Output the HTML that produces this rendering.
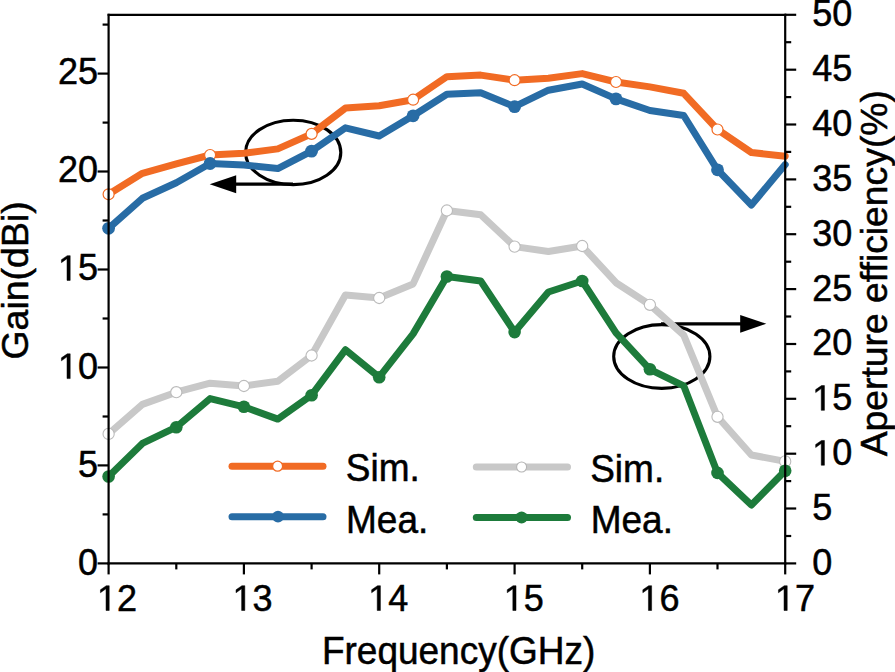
<!DOCTYPE html>
<html><head><meta charset="utf-8"><style>
html,body{margin:0;padding:0;background:#fff;width:895px;height:672px;overflow:hidden}
svg{display:block}
text{font-family:"Liberation Sans",sans-serif;font-size:36px;fill:#000;stroke:#000;stroke-width:0.5px}
</style></head><body>
<svg width="895" height="672" viewBox="0 0 895 672">
<ellipse cx="293.2" cy="152.4" rx="47.6" ry="32.2" fill="none" stroke="#000" stroke-width="3.1"/><line x1="230" y1="184.2" x2="293" y2="184.2" stroke="#000" stroke-width="3.2"/><polygon points="209.7,184.2 236.2,175.2 236.2,193.3" fill="#000"/><ellipse cx="661.8" cy="356.5" rx="48.1" ry="31.9" fill="none" stroke="#000" stroke-width="3.1"/><line x1="661" y1="323.8" x2="745" y2="323.8" stroke="#000" stroke-width="3.2"/><polygon points="766.3,323.8 740.2,315 740.2,332.7" fill="#000"/>
<polyline points="108.6,433.9 142.4,404.4 176.3,392.2 210.1,383.2 243.9,386.0 277.8,381.2 311.6,355.5 345.4,295.0 379.2,298.0 413.1,283.9 446.9,210.5 480.7,214.8 514.6,246.6 548.4,251.5 582.2,246.0 616.0,282.7 649.9,304.8 683.7,335.2 717.5,416.8 751.4,455.0 785.2,461.4" fill="none" stroke="#c8c8c8" stroke-width="7" stroke-linejoin="round" stroke-linecap="round"/><polyline points="108.6,476.5 142.4,443.4 176.3,427.2 210.1,398.6 243.9,406.8 277.8,419.1 311.6,395.2 345.4,349.8 379.2,377.2 413.1,333.9 446.9,276.5 480.7,281.0 514.6,332.1 548.4,292.0 582.2,281.0 616.0,332.9 649.9,369.3 683.7,385.8 717.5,472.9 751.4,505.0 785.2,470.7" fill="none" stroke="#1d7b3b" stroke-width="7" stroke-linejoin="round" stroke-linecap="round"/><polyline points="108.6,194.3 142.4,173.3 176.3,163.9 210.1,155.0 243.9,153.2 277.8,148.9 311.6,133.9 345.4,108.1 379.2,105.7 413.1,99.7 446.9,76.7 480.7,75.1 514.6,80.2 548.4,78.2 582.2,73.6 616.0,82.0 649.9,86.9 683.7,93.3 717.5,129.5 751.4,152.5 785.2,156.2" fill="none" stroke="#f16b24" stroke-width="7" stroke-linejoin="round" stroke-linecap="round"/><polyline points="108.6,228.3 142.4,198.3 176.3,182.7 210.1,163.5 243.9,165.0 277.8,168.6 311.6,151.1 345.4,127.8 379.2,136.0 413.1,115.8 446.9,94.2 480.7,92.8 514.6,106.7 548.4,90.2 582.2,84.0 616.0,98.9 649.9,110.5 683.7,115.5 717.5,169.8 751.4,205.0 785.2,164.6" fill="none" stroke="#286ca5" stroke-width="7" stroke-linejoin="round" stroke-linecap="round"/><circle cx="108.6" cy="433.9" r="5.6" fill="#fff" stroke="#bbb" stroke-width="1.1"/><circle cx="176.3" cy="392.2" r="5.6" fill="#fff" stroke="#bbb" stroke-width="1.1"/><circle cx="243.9" cy="386.0" r="5.6" fill="#fff" stroke="#bbb" stroke-width="1.1"/><circle cx="311.6" cy="355.5" r="5.6" fill="#fff" stroke="#bbb" stroke-width="1.1"/><circle cx="379.2" cy="298.0" r="5.6" fill="#fff" stroke="#bbb" stroke-width="1.1"/><circle cx="446.9" cy="210.5" r="5.6" fill="#fff" stroke="#bbb" stroke-width="1.1"/><circle cx="514.6" cy="246.6" r="5.6" fill="#fff" stroke="#bbb" stroke-width="1.1"/><circle cx="582.2" cy="246.0" r="5.6" fill="#fff" stroke="#bbb" stroke-width="1.1"/><circle cx="649.9" cy="304.8" r="5.6" fill="#fff" stroke="#bbb" stroke-width="1.1"/><circle cx="717.5" cy="416.8" r="5.6" fill="#fff" stroke="#bbb" stroke-width="1.1"/><circle cx="785.2" cy="461.4" r="5.6" fill="#fff" stroke="#bbb" stroke-width="1.1"/><circle cx="108.6" cy="476.5" r="6.3" fill="#1d7b3b"/><circle cx="176.3" cy="427.2" r="6.3" fill="#1d7b3b"/><circle cx="243.9" cy="406.8" r="6.3" fill="#1d7b3b"/><circle cx="311.6" cy="395.2" r="6.3" fill="#1d7b3b"/><circle cx="379.2" cy="377.2" r="6.3" fill="#1d7b3b"/><circle cx="446.9" cy="276.5" r="6.3" fill="#1d7b3b"/><circle cx="514.6" cy="332.1" r="6.3" fill="#1d7b3b"/><circle cx="582.2" cy="281.0" r="6.3" fill="#1d7b3b"/><circle cx="649.9" cy="369.3" r="6.3" fill="#1d7b3b"/><circle cx="717.5" cy="472.9" r="6.3" fill="#1d7b3b"/><circle cx="785.2" cy="470.7" r="6.3" fill="#1d7b3b"/><circle cx="108.6" cy="194.3" r="5.5" fill="#fff" stroke="#f16b24" stroke-width="1.2"/><circle cx="210.1" cy="155.0" r="5.5" fill="#fff" stroke="#f16b24" stroke-width="1.2"/><circle cx="311.6" cy="133.9" r="5.5" fill="#fff" stroke="#f16b24" stroke-width="1.2"/><circle cx="413.1" cy="99.7" r="5.5" fill="#fff" stroke="#f16b24" stroke-width="1.2"/><circle cx="514.6" cy="80.2" r="5.5" fill="#fff" stroke="#f16b24" stroke-width="1.2"/><circle cx="616.0" cy="82.0" r="5.5" fill="#fff" stroke="#f16b24" stroke-width="1.2"/><circle cx="717.5" cy="129.5" r="5.5" fill="#fff" stroke="#f16b24" stroke-width="1.2"/><circle cx="108.6" cy="228.3" r="6.4" fill="#286ca5"/><circle cx="210.1" cy="163.5" r="6.4" fill="#286ca5"/><circle cx="311.6" cy="151.1" r="6.4" fill="#286ca5"/><circle cx="413.1" cy="115.8" r="6.4" fill="#286ca5"/><circle cx="514.6" cy="106.7" r="6.4" fill="#286ca5"/><circle cx="616.0" cy="98.9" r="6.4" fill="#286ca5"/><circle cx="717.5" cy="169.8" r="6.4" fill="#286ca5"/>
<line x1="97.6" y1="563.4" x2="108.6" y2="563.4" stroke="#000" stroke-width="2.2"/><line x1="97.6" y1="465.4" x2="108.6" y2="465.4" stroke="#000" stroke-width="2.2"/><line x1="97.6" y1="367.5" x2="108.6" y2="367.5" stroke="#000" stroke-width="2.2"/><line x1="97.6" y1="269.5" x2="108.6" y2="269.5" stroke="#000" stroke-width="2.2"/><line x1="97.6" y1="171.5" x2="108.6" y2="171.5" stroke="#000" stroke-width="2.2"/><line x1="97.6" y1="73.6" x2="108.6" y2="73.6" stroke="#000" stroke-width="2.2"/><line x1="102.6" y1="514.4" x2="108.6" y2="514.4" stroke="#000" stroke-width="2.2"/><line x1="102.6" y1="416.5" x2="108.6" y2="416.5" stroke="#000" stroke-width="2.2"/><line x1="102.6" y1="318.5" x2="108.6" y2="318.5" stroke="#000" stroke-width="2.2"/><line x1="102.6" y1="220.5" x2="108.6" y2="220.5" stroke="#000" stroke-width="2.2"/><line x1="102.6" y1="122.6" x2="108.6" y2="122.6" stroke="#000" stroke-width="2.2"/><line x1="102.6" y1="24.6" x2="108.6" y2="24.6" stroke="#000" stroke-width="2.2"/><line x1="785.2" y1="563.4" x2="796.2" y2="563.4" stroke="#000" stroke-width="2.2"/><line x1="785.2" y1="508.5" x2="796.2" y2="508.5" stroke="#000" stroke-width="2.2"/><line x1="785.2" y1="453.7" x2="796.2" y2="453.7" stroke="#000" stroke-width="2.2"/><line x1="785.2" y1="398.8" x2="796.2" y2="398.8" stroke="#000" stroke-width="2.2"/><line x1="785.2" y1="344.0" x2="796.2" y2="344.0" stroke="#000" stroke-width="2.2"/><line x1="785.2" y1="289.1" x2="796.2" y2="289.1" stroke="#000" stroke-width="2.2"/><line x1="785.2" y1="234.2" x2="796.2" y2="234.2" stroke="#000" stroke-width="2.2"/><line x1="785.2" y1="179.4" x2="796.2" y2="179.4" stroke="#000" stroke-width="2.2"/><line x1="785.2" y1="124.5" x2="796.2" y2="124.5" stroke="#000" stroke-width="2.2"/><line x1="785.2" y1="69.7" x2="796.2" y2="69.7" stroke="#000" stroke-width="2.2"/><line x1="785.2" y1="14.8" x2="796.2" y2="14.8" stroke="#000" stroke-width="2.2"/><line x1="785.2" y1="536.0" x2="791.2" y2="536.0" stroke="#000" stroke-width="2.2"/><line x1="785.2" y1="481.1" x2="791.2" y2="481.1" stroke="#000" stroke-width="2.2"/><line x1="785.2" y1="426.2" x2="791.2" y2="426.2" stroke="#000" stroke-width="2.2"/><line x1="785.2" y1="371.4" x2="791.2" y2="371.4" stroke="#000" stroke-width="2.2"/><line x1="785.2" y1="316.5" x2="791.2" y2="316.5" stroke="#000" stroke-width="2.2"/><line x1="785.2" y1="261.7" x2="791.2" y2="261.7" stroke="#000" stroke-width="2.2"/><line x1="785.2" y1="206.8" x2="791.2" y2="206.8" stroke="#000" stroke-width="2.2"/><line x1="785.2" y1="151.9" x2="791.2" y2="151.9" stroke="#000" stroke-width="2.2"/><line x1="785.2" y1="97.1" x2="791.2" y2="97.1" stroke="#000" stroke-width="2.2"/><line x1="785.2" y1="42.2" x2="791.2" y2="42.2" stroke="#000" stroke-width="2.2"/><line x1="108.6" y1="563.4" x2="108.6" y2="574.4" stroke="#000" stroke-width="2.2"/><line x1="243.9" y1="563.4" x2="243.9" y2="574.4" stroke="#000" stroke-width="2.2"/><line x1="379.2" y1="563.4" x2="379.2" y2="574.4" stroke="#000" stroke-width="2.2"/><line x1="514.6" y1="563.4" x2="514.6" y2="574.4" stroke="#000" stroke-width="2.2"/><line x1="649.9" y1="563.4" x2="649.9" y2="574.4" stroke="#000" stroke-width="2.2"/><line x1="785.2" y1="563.4" x2="785.2" y2="574.4" stroke="#000" stroke-width="2.2"/><line x1="176.3" y1="563.4" x2="176.3" y2="569.4" stroke="#000" stroke-width="2.2"/><line x1="311.6" y1="563.4" x2="311.6" y2="569.4" stroke="#000" stroke-width="2.2"/><line x1="446.9" y1="563.4" x2="446.9" y2="569.4" stroke="#000" stroke-width="2.2"/><line x1="582.2" y1="563.4" x2="582.2" y2="569.4" stroke="#000" stroke-width="2.2"/><line x1="717.5" y1="563.4" x2="717.5" y2="569.4" stroke="#000" stroke-width="2.2"/><line x1="108.6" y1="13.8" x2="108.6" y2="564.4" stroke="#000" stroke-width="2.2"/><line x1="785.2" y1="13.8" x2="785.2" y2="564.4" stroke="#000" stroke-width="2.2"/><line x1="107.6" y1="14.8" x2="786.2" y2="14.8" stroke="#000" stroke-width="2.2"/><line x1="107.6" y1="563.4" x2="786.2" y2="563.4" stroke="#000" stroke-width="2.2"/>
<line x1="232" y1="466.3" x2="323" y2="466.3" stroke="#f16b24" stroke-width="7" stroke-linecap="round"/><circle cx="277.6" cy="466.2" r="5.0" fill="#fff" stroke="#f16b24" stroke-width="1.3"/><line x1="232" y1="516.8" x2="323" y2="516.8" stroke="#286ca5" stroke-width="7" stroke-linecap="round"/><circle cx="278" cy="516.7" r="5.9" fill="#286ca5"/><line x1="476.3" y1="467" x2="567.5" y2="467" stroke="#c8c8c8" stroke-width="7" stroke-linecap="round"/><circle cx="521.6" cy="467" r="5.0" fill="#fff" stroke="#b4b4b4" stroke-width="1.1"/><line x1="476.3" y1="517.4" x2="567.5" y2="517.4" stroke="#1d7b3b" stroke-width="7" stroke-linecap="round"/><circle cx="521.6" cy="517.4" r="6.0" fill="#1d7b3b"/><text transform="translate(345.80,481.30) scale(1.0,1.05)" text-anchor="start" style="font-size:37px">Sim.</text><text transform="translate(346.00,532.70) scale(1.0,1.05)" text-anchor="start" style="font-size:37px">Mea.</text><text transform="translate(590.20,482.00) scale(1.0,1.05)" text-anchor="start" style="font-size:37px">Sim.</text><text transform="translate(590.70,533.10) scale(1.0,1.05)" text-anchor="start" style="font-size:37px">Mea.</text>
<text transform="translate(77.98,575.00)" text-anchor="start" style="font-size:36px">0</text><text transform="translate(77.98,476.80)" text-anchor="start" style="font-size:36px">5</text><path transform="translate(57.96,378.60) scale(0.017578,-0.017578)" d="M515,0L515,1237L197,1010L197,1180L530,1409L696,1409L696,0Z" fill="#000" stroke="#000" stroke-width="28.4"/><text transform="translate(77.98,378.60)" text-anchor="start" style="font-size:36px">0</text><path transform="translate(57.96,280.40) scale(0.017578,-0.017578)" d="M515,0L515,1237L197,1010L197,1180L530,1409L696,1409L696,0Z" fill="#000" stroke="#000" stroke-width="28.4"/><text transform="translate(77.98,280.40)" text-anchor="start" style="font-size:36px">5</text><text transform="translate(57.96,182.20)" text-anchor="start" style="font-size:36px">20</text><text transform="translate(57.96,84.00)" text-anchor="start" style="font-size:36px">25</text><text transform="translate(812.20,575.00)" text-anchor="start" style="font-size:36px">0</text><text transform="translate(812.20,520.12)" text-anchor="start" style="font-size:36px">5</text><path transform="translate(812.20,465.24) scale(0.017578,-0.017578)" d="M515,0L515,1237L197,1010L197,1180L530,1409L696,1409L696,0Z" fill="#000" stroke="#000" stroke-width="28.4"/><text transform="translate(832.22,465.24)" text-anchor="start" style="font-size:36px">0</text><path transform="translate(812.20,410.36) scale(0.017578,-0.017578)" d="M515,0L515,1237L197,1010L197,1180L530,1409L696,1409L696,0Z" fill="#000" stroke="#000" stroke-width="28.4"/><text transform="translate(832.22,410.36)" text-anchor="start" style="font-size:36px">5</text><text transform="translate(812.20,355.48)" text-anchor="start" style="font-size:36px">20</text><text transform="translate(812.20,300.60)" text-anchor="start" style="font-size:36px">25</text><text transform="translate(812.20,245.72)" text-anchor="start" style="font-size:36px">30</text><text transform="translate(812.20,190.84)" text-anchor="start" style="font-size:36px">35</text><text transform="translate(812.20,135.96)" text-anchor="start" style="font-size:36px">40</text><text transform="translate(812.20,81.08)" text-anchor="start" style="font-size:36px">45</text><text transform="translate(812.20,26.20)" text-anchor="start" style="font-size:36px">50</text><path transform="translate(96.98,610.50) scale(0.017578,-0.017578)" d="M515,0L515,1237L197,1010L197,1180L530,1409L696,1409L696,0Z" fill="#000" stroke="#000" stroke-width="28.4"/><text transform="translate(117.00,610.50)" text-anchor="start" style="font-size:36px">2</text><path transform="translate(232.58,610.50) scale(0.017578,-0.017578)" d="M515,0L515,1237L197,1010L197,1180L530,1409L696,1409L696,0Z" fill="#000" stroke="#000" stroke-width="28.4"/><text transform="translate(252.60,610.50)" text-anchor="start" style="font-size:36px">3</text><path transform="translate(368.18,610.50) scale(0.017578,-0.017578)" d="M515,0L515,1237L197,1010L197,1180L530,1409L696,1409L696,0Z" fill="#000" stroke="#000" stroke-width="28.4"/><text transform="translate(388.20,610.50)" text-anchor="start" style="font-size:36px">4</text><path transform="translate(503.78,610.50) scale(0.017578,-0.017578)" d="M515,0L515,1237L197,1010L197,1180L530,1409L696,1409L696,0Z" fill="#000" stroke="#000" stroke-width="28.4"/><text transform="translate(523.80,610.50)" text-anchor="start" style="font-size:36px">5</text><path transform="translate(639.38,610.50) scale(0.017578,-0.017578)" d="M515,0L515,1237L197,1010L197,1180L530,1409L696,1409L696,0Z" fill="#000" stroke="#000" stroke-width="28.4"/><text transform="translate(659.40,610.50)" text-anchor="start" style="font-size:36px">6</text><path transform="translate(774.98,610.50) scale(0.017578,-0.017578)" d="M515,0L515,1237L197,1010L197,1180L530,1409L696,1409L696,0Z" fill="#000" stroke="#000" stroke-width="28.4"/><text transform="translate(795.00,610.50)" text-anchor="start" style="font-size:36px">7</text><text transform="translate(458.60,663.60) scale(1.0,1.04)" text-anchor="middle" style="font-size:37px">Frequency(GHz)</text><text transform="translate(27.80,280.40) rotate(-90)" text-anchor="middle" style="font-size:37.5px">Gain(dBi)</text><text transform="translate(887.00,273.20) rotate(-90)" text-anchor="middle" style="font-size:37.3px">Aperture efficiency(%)</text>
</svg>
</body></html>
